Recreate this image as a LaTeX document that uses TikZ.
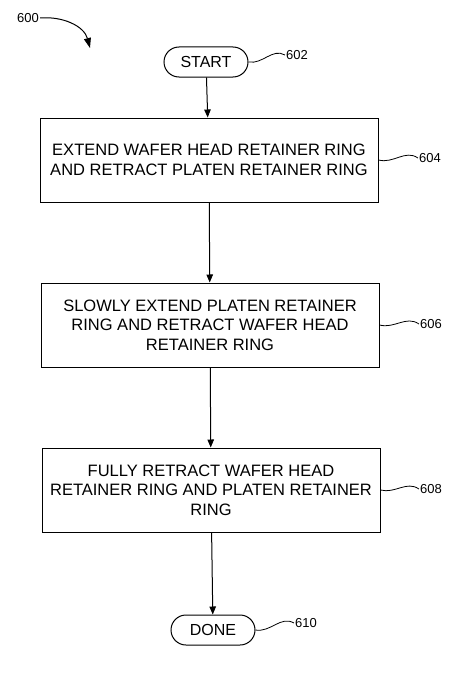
\documentclass[tikz,border=0pt]{standalone}
\usepackage{fontspec}
\setmainfont{Liberation Sans}
\usetikzlibrary{arrows.meta}

\tikzset{
  stepbox/.style={draw, line width=1pt, minimum width=338pt, minimum height=84pt,
    align=center, font=\fontsize{16.5}{19.5}\selectfont},
  term/.style={draw, line width=1pt, rounded corners=15pt, minimum width=84pt,
    minimum height=30pt, font=\fontsize{16}{19}\selectfont},
  ref/.style={font=\fontsize{13}{15}\selectfont, inner sep=1pt},
  flow/.style={line width=1pt, -{Triangle[length=8pt,width=6.5pt]}},
  lead/.style={line width=0.8pt}
}

\begin{document}
\begin{tikzpicture}[x=1pt,y=-1pt]
\useasboundingbox (0,0) rectangle (474,677);
\node [ref] (l600) at (28,18) {600};
\node [term] (start) at (206,62) {START};
\node [ref] (l602) at (297,55) {602};
\node [stepbox] (extend) at (209,160) {EXTEND WAFER HEAD RETAINER RING\\AND RETRACT PLATEN RETAINER RING};
\node [ref] (l604) at (430,158) {604};
\node [stepbox] (slowly) at (210,325) {SLOWLY EXTEND PLATEN RETAINER\\RING AND RETRACT WAFER HEAD\\RETAINER RING};
\node [ref] (l606) at (431,324) {606};
\node [stepbox] (fully) at (211,490) {FULLY RETRACT WAFER HEAD\\RETAINER RING AND PLATEN RETAINER\\RING};
\node [ref] (l608) at (431,489) {608};
\node [term] (done) at (213,630) {DONE};
\node [ref] (l610) at (306,623) {610};
\coordinate (tip600) at (90,48);
% flow
\draw [flow] (start) -- (extend);
\draw [flow] (extend) -- (slowly);
\draw [flow] (slowly) -- (fully);
\draw [flow] (fully) -- (done);
\draw [line width=1pt, -{Triangle[length=10pt,width=7pt]}] (l600.east) to[out=5,in=105] (tip600);
% leads
\draw [lead] (start.east) to[out=-10,in=150] (l602.west);
\draw [lead] (extend.east) to[out=-15,in=145] (l604.west);
\draw [lead] (slowly.east) to[out=-15,in=145] (l606.west);
\draw [lead] (fully.east) to[out=-15,in=145] (l608.west);
\draw [lead] (done.east) to[out=-10,in=150] (l610.west);
\end{tikzpicture}
\end{document}
